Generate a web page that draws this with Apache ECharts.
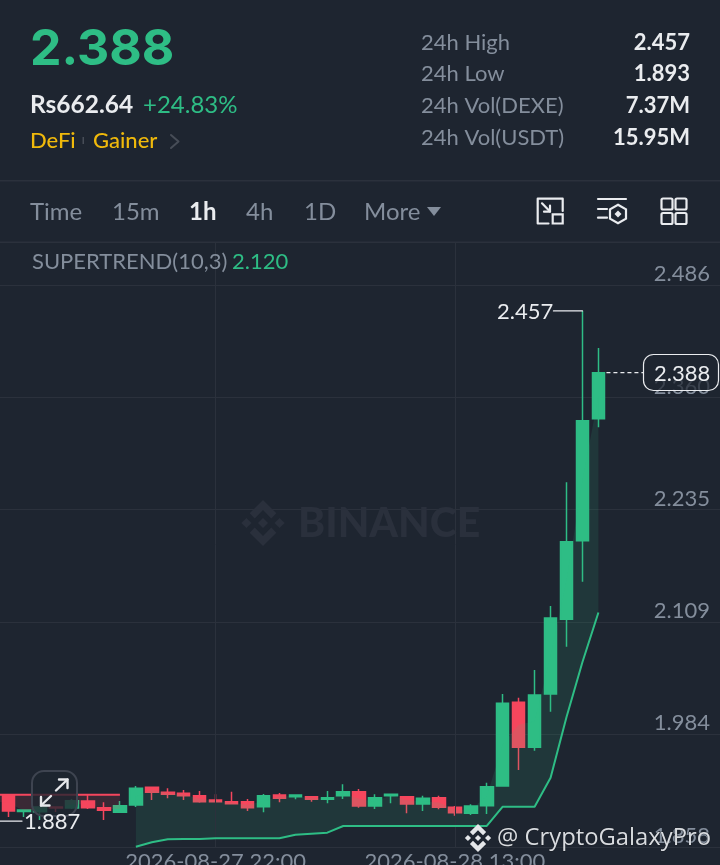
<!DOCTYPE html>
<html><head><meta charset="utf-8">
<style>html,body{margin:0;padding:0;background:#1E2530;overflow:hidden}#c{width:720px;height:865px}</style>
<script src="https://cdn.jsdelivr.net/npm/echarts@6/dist/echarts.min.js"></script>
</head><body><div id="c"></div>
<script>
const categories = ['2026-08-27 08:00','2026-08-27 09:00','2026-08-27 10:00','2026-08-27 11:00','2026-08-27 12:00','2026-08-27 13:00','2026-08-27 14:00','2026-08-27 15:00','2026-08-27 16:00','2026-08-27 17:00','2026-08-27 18:00','2026-08-27 19:00','2026-08-27 20:00','2026-08-27 21:00','2026-08-27 22:00','2026-08-27 23:00','2026-08-28 00:00','2026-08-28 01:00','2026-08-28 02:00','2026-08-28 03:00','2026-08-28 04:00','2026-08-28 05:00','2026-08-28 06:00','2026-08-28 07:00','2026-08-28 08:00','2026-08-28 09:00','2026-08-28 10:00','2026-08-28 11:00','2026-08-28 12:00','2026-08-28 13:00','2026-08-28 14:00','2026-08-28 15:00','2026-08-28 16:00','2026-08-28 17:00','2026-08-28 18:00','2026-08-28 19:00','2026-08-28 20:00','2026-08-28 21:00','2026-08-28 22:00','2026-08-28 23:00','2026-08-29 00:00','2026-08-29 01:00','2026-08-29 02:00','2026-08-29 03:00','2026-08-29 04:00','2026-08-29 05:00','2026-08-29 06:00'];
const timeLabels = ['2026-08-27 22:00','2026-08-28 13:00'];
const priceTicks = [1.858,1.984,2.109,2.235,2.360,2.486];
// open, close, low, high
const candles = [
[1.9161,1.9030,1.8870,1.9190],
[1.9161,1.8982,1.8915,1.9161],[1.8977,1.8993,1.8915,1.8993],[1.8974,1.9027,1.8882,1.9027],[1.9027,1.9016,1.8971,1.9027],
[1.9016,1.9097,1.9005,1.9116],[1.9094,1.9019,1.9005,1.9161],[1.9019,1.8990,1.8882,1.9079],[1.8968,1.9041,1.8968,1.9094],
[1.9049,1.9236,1.9027,1.9262],[1.9247,1.9191,1.9105,1.9247],[1.9191,1.9169,1.9124,1.9236],[1.9180,1.9153,1.9105,1.9217],
[1.9153,1.9086,1.9075,1.9206],[1.9105,1.9086,1.9086,1.9169],[1.9086,1.9064,1.9057,1.9198],[1.9086,1.9019,1.8982,1.9116],
[1.9030,1.9153,1.8968,1.9172],[1.9161,1.9124,1.9079,1.9183],[1.9142,1.9161,1.9113,1.9161],[1.9142,1.9113,1.9086,1.9142],
[1.9113,1.9131,1.9068,1.9206],[1.9153,1.9198,1.9116,1.9280],[1.9198,1.9038,1.9019,1.9228],[1.9038,1.9131,1.9005,1.9169],
[1.9153,1.9169,1.9068,1.9169],[1.9142,1.9060,1.8957,1.9142],[1.9060,1.9124,1.8982,1.9153],[1.9131,1.9024,1.9001,1.9153],
[1.9024,1.8963,1.8930,1.9038],[1.8957,1.9038,1.8938,1.9057],[1.9041,1.9254,1.8949,1.9298],[1.9262,2.0186,1.9262,2.0289],
[2.0197,1.9694,1.9440,2.0248],[1.9694,2.0278,1.9656,2.0558],[2.0289,2.1139,2.0092,2.1273],[2.1124,2.1991,2.0818,2.2655],
[2.2002,2.3343,2.1544,2.4570],[2.3365,2.3880,2.3269,2.4155]
];
const trendDown = [1.9165,1.9165,1.9165,1.9165,1.9165,1.9165,1.9165,1.9165,1.9165];
const trendUp = [1.8583,1.8633,1.8666,1.8669,1.8669,1.8677,1.8677,1.8677,1.8677,1.8677,1.8717,1.8729,1.8740,1.8815,1.8815,1.8815,1.8815,1.8815,1.8815,1.8815,1.8815,1.8815,1.8815,1.9030,1.9030,1.9030,1.9354,2.0033,2.0647,2.120];
const upStart = 9;
const latestPrice = 2.388, highPrice = 2.457, lowPrice = 1.887;
const stats = [['24h High','2.457'],['24h Low','1.893'],['24h Vol(DEXE)','7.37M'],['24h Vol(USDT)','15.95M']];
const tabs = [['Time',30],['15m',112],['1h',189],['4h',246],['1D',304],['More',364]];

const GREEN='#2EBD85', RED='#F6465D', GRID='#2B313C', MUTED='#848E9C', WHITE='#EAECEF', FONT='Lato, Inter, sans-serif';
const N = categories.length;
const mid = c => (c[0]+c[1])/2;
const pad = (arr,start) => { const o=new Array(N).fill('-'); arr.forEach((v,i)=>o[start+i]=v); return o; };
const upBand = trendUp.map((v,i)=>+(mid(candles[upStart+i])-v).toFixed(4));
const downBase = trendDown.map((v,i)=>+mid(candles[i]).toFixed(4));
const downBand = trendDown.map((v,i)=>+(v-downBase[i]).toFixed(4));

const chart = echarts.init(document.getElementById('c'),null,{width:720,height:865});
const BAND = 15.95;
chart.setOption({
  animation:false, backgroundColor:'#1E2530',
  grid:{left:-15.65, top:242, width:BAND*N, height:605, containLabel:false, outerBoundsMode:'none'},
  xAxis:{type:'category', data:categories, boundaryGap:true,
    axisLine:{show:false}, axisTick:{show:false}, splitLine:{show:false},
    axisLabel:{color:MUTED, fontFamily:FONT, fontSize:22, margin:4, hideOverlap:false,
      interval:(i,name)=>timeLabels.includes(name)}},
  yAxis:{type:'value', position:'right', min:1.858, max:2.534, scale:true,
    axisLine:{show:false},
    axisTick:{show:false, customValues:priceTicks},
    splitLine:{show:true, lineStyle:{color:GRID, width:1}},
    axisLabel:{inside:true, customValues:priceTicks, color:MUTED, fontFamily:FONT, fontSize:22, margin:24,
      verticalAlign:'bottom', lineHeight:22, padding:[0,0,0,0], formatter:v=>(+v).toFixed(3)}},
  series:[
    {type:'candlestick', name:'price', data:candles, barWidth:13, z:3,
      itemStyle:{color:GREEN,color0:RED,borderColor:GREEN,borderColor0:RED,borderWidth:1.5},
      markLine:{silent:true, symbol:'none', label:{show:false}, animation:false,
        lineStyle:{color:GRID,width:1,type:'solid'}, data:timeLabels.map(t=>({xAxis:t}))}},
    {type:'line', name:'dnBase', stack:'dn', data:pad(downBase,0), symbol:'none', lineStyle:{width:0}, z:4},
    {type:'line', name:'dnBand', stack:'dn', data:pad(downBand,0), symbol:'none', lineStyle:{width:0}, areaStyle:{color:RED,opacity:.13}, z:4},
    {type:'line', name:'SUPERTREND down', data:pad(trendDown,0), symbol:'none', lineStyle:{color:RED,width:2}, z:5},
    {type:'line', name:'SUPERTREND up', stack:'up', data:pad(trendUp,upStart), symbol:'none', lineStyle:{color:GREEN,width:2}, z:5},
    {type:'line', name:'upBand', stack:'up', data:pad(upBand,upStart), symbol:'none', lineStyle:{width:0}, areaStyle:{color:GREEN,opacity:.12}, z:4}
  ]
});

const T=(text,x,y,fill,size,weight,align,family)=>({type:'text',z:100,x,y,silent:true,style:{text,fill,font:`${weight||400} ${size}px ${family||FONT}`,align:align||'left',verticalAlign:'middle'}});
const L=(pts,stroke,w,z)=>({type:'polyline',z:z||100,silent:true,shape:{points:pts},style:{stroke,lineWidth:w||2,fill:null,lineCap:'round',lineJoin:'round'}});
const P=(pts,fill,z)=>({type:'polygon',z:z||100,silent:true,shape:{points:pts},style:{fill}});
function logo(cx,cy,r,fill,z){
  const m=a=>a.map(p=>[cx+p[0]*r,cy+p[1]*r]);
  const shapes=[[[0,-.22],[.22,0],[0,.22],[-.22,0]],[[-.72,-.22],[-.5,0],[-.72,.22],[-.94,0]],[[.72,-.22],[.94,0],[.72,.22],[.5,0]],
    [[0,-1],[.58,-.42],[.36,-.2],[0,-.56],[-.36,-.2],[-.58,-.42]],[[0,1],[.58,.42],[.36,.2],[0,.56],[-.36,.2],[-.58,.42]]];
  return shapes.map(s=>P(m(s),fill,z));
}
const xAt=i=>chart.convertToPixel({xAxisIndex:0},i), yAt=v=>chart.convertToPixel({yAxisIndex:0},v);
const yLast=yAt(latestPrice), yHigh=yAt(highPrice), yLow=yAt(lowPrice), xHigh=xAt(37), xLast=xAt(38);

const g=[
  // header
  T('2.388',30,49.5,GREEN,50,700,'left','Inter'),
  T('Rs662.64',30,105,WHITE,24.5,700),
  T('+24.83%',143,105,GREEN,24,400),
  T('DeFi',30,141,'#F0B90B',22,500),
  {type:'rect',z:100,silent:true,shape:{x:82.5,y:137,width:1.5,height:7},style:{fill:'#474D57'}},
  T('Gainer',93,141,'#F0B90B',22,500),
  L([[171,135],[178.5,141.5],[171,148]],'#474D57',2),
  ...stats.flatMap((s,i)=>{const y=[42.5,73.5,105.5,137.5][i];return [T(s[0],421,y,MUTED,22,400),T(s[1],690,y,WHITE,22,700,'right')];}),
  // separators
  {type:'rect',z:100,silent:true,shape:{x:0,y:180,width:720,height:1.5},style:{fill:GRID}},
  {type:'rect',z:100,silent:true,shape:{x:0,y:241.5,width:720,height:1.5},style:{fill:GRID}},
  // tabs
  ...tabs.map(t=>T(t[0],t[1],212,t[0]==='1h'?WHITE:MUTED,24,t[0]==='1h'?700:400)),
  P([[427,207],[441,207],[434,216]],MUTED),
  // icon 1
  L([[562.7,211],[562.7,198.7],[537.7,198.7],[537.7,223.5],[548.5,223.5]],WHITE,2.2),
  {type:'rect',z:100,silent:true,shape:{x:552.7,y:214.3,width:10,height:9.2},style:{stroke:WHITE,lineWidth:2.2,fill:null}},
  L([[542,203.3],[550,211.5]],WHITE,2.2), L([[550,205.7],[550,211.7],[544,211.7]],WHITE,2.2),
  // icon 2
  L([[598,199],[626,199]],WHITE,2.2), L([[598,209],[607,209]],WHITE,2.2), L([[598,217.7],[607,217.7]],WHITE,2.2),
  {type:'polygon',z:100,silent:true,shape:{points:[[618,204.7],[626,209.3],[626,218.7],[618,223.3],[610,218.7],[610,209.3]]},style:{stroke:WHITE,lineWidth:2.2,fill:null}},
  P([[618,210.5],[621.5,214],[618,217.5],[614.5,214]],WHITE),
  // icon 3
  ...[[661.5,198.5],[675.5,198.5],[661.5,213],[675.5,213]].map(p=>({type:'rect',z:100,silent:true,shape:{x:p[0],y:p[1],width:11,height:11,r:1.5},style:{stroke:WHITE,lineWidth:2.2,fill:null}})),
  // indicator
  T('SUPERTREND(10,3)',32,262,MUTED,22,400),
  T('2.120',232,262,GREEN,22,400),
  // chart watermark
  ...logo(263,523,23,'#2A303C',1),
  {type:'text',z:1,x:298,y:524,silent:true,style:{text:'BINANCE',fill:'#2A303C',font:`900 41px ${FONT}`,align:'left',verticalAlign:'middle'}},
  // high / low / last
  L([[xHigh,yHigh],[xHigh-29,yHigh]],WHITE,1.3,50),
  T('2.457',497,yHigh+.5,WHITE,22,400),
  L([[0,yLow],[22,yLow]],WHITE,1.3,102),
  {type:'line',z:50,silent:true,shape:{x1:xLast+8,y1:yLast,x2:643,y2:yLast},style:{stroke:WHITE,lineWidth:1.2,lineDash:[4,3]}},
  {type:'rect',z:60,silent:true,shape:{x:643.5,y:354.5,width:75,height:36,r:10},style:{fill:'rgba(30,37,48,0.72)',stroke:WHITE,lineWidth:1.2}},
  T('2.388',654,373.5,WHITE,22,400),
  // expand button
  {type:'rect',z:90,silent:true,shape:{x:32,y:771,width:45,height:45,r:12},style:{fill:'rgba(30,37,48,0.78)',stroke:'#3E4450',lineWidth:2}},
  L([[56,790.5],[67.5,779.5]],'#E6E8EB',2.4,91), L([[59,779.5],[67.5,779.5],[67.5,788]],'#E6E8EB',2.4,91),
  L([[51,796],[41,805.5]],'#E6E8EB',2.4,91), L([[41,797],[41,805.5],[49.5,805.5]],'#E6E8EB',2.4,91),
  T('1.887',24,822,WHITE,22,400),
  // credit
  ...logo(478,838,14,'#E4E6E9',110),
  {type:'text',z:110,x:497,y:838,silent:true,style:{text:'@ CryptoGalaxyPro',fill:'#D8DBDF',stroke:'rgba(20,24,30,0.55)',lineWidth:1,font:`400 23.8px "Open Sans", ${FONT}`,align:'left',verticalAlign:'middle'}}
];
chart.setOption({graphic:g});
</script></body></html>
